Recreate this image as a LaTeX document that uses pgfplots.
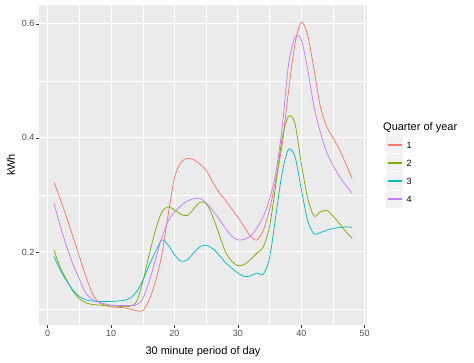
\documentclass[border=0pt]{standalone}
\usepackage{pgfplots}
\pgfplotsset{compat=1.18}
\usepackage{fontspec}
\setmainfont{Liberation Sans}
\definecolor{qa}{HTML}{F8766D}
\definecolor{qb}{HTML}{7CAE00}
\definecolor{qc}{HTML}{00BFC4}
\definecolor{qd}{HTML}{C77CFF}
\definecolor{panelbg}{HTML}{EBEBEB}
\definecolor{keybg}{HTML}{F2F2F2}
\definecolor{grey30}{HTML}{4D4D4D}
\definecolor{grey20}{HTML}{333333}

\pgfplotstableread{
x q1 q2 q3 q4
1 0.322 0.203 0.192 0.285
2 0.292 0.172 0.168 0.245
3 0.260 0.151 0.149 0.209
4 0.226 0.131 0.133 0.178
5 0.192 0.118 0.122 0.152
6 0.158 0.111 0.116 0.128
7 0.128 0.108 0.114 0.117
8 0.112 0.107 0.113 0.112
9 0.107 0.106 0.113 0.109
10 0.104 0.105 0.113 0.107
11 0.103 0.105 0.114 0.106
12 0.102 0.104 0.115 0.106
13 0.100 0.105 0.119 0.106
14 0.097 0.113 0.130 0.107
15 0.097 0.148 0.150 0.118
16 0.116 0.195 0.177 0.148
17 0.148 0.238 0.200 0.186
18 0.195 0.270 0.221 0.225
19 0.265 0.279 0.212 0.254
20 0.330 0.274 0.195 0.270
21 0.357 0.266 0.184 0.281
22 0.364 0.264 0.186 0.289
23 0.362 0.275 0.198 0.293
24 0.354 0.287 0.209 0.294
25 0.343 0.285 0.212 0.286
26 0.323 0.263 0.206 0.273
27 0.305 0.232 0.195 0.258
28 0.291 0.201 0.182 0.242
29 0.276 0.184 0.172 0.228
30 0.261 0.176 0.163 0.221
31 0.244 0.178 0.157 0.222
32 0.227 0.187 0.158 0.228
33 0.221 0.198 0.163 0.242
34 0.238 0.209 0.161 0.262
35 0.275 0.245 0.190 0.293
36 0.328 0.320 0.265 0.340
37 0.390 0.400 0.340 0.420
38 0.484 0.438 0.380 0.530
39 0.565 0.425 0.367 0.576
40 0.603 0.355 0.310 0.572
41 0.580 0.295 0.255 0.520
42 0.520 0.263 0.232 0.455
43 0.455 0.270 0.234 0.410
44 0.420 0.273 0.238 0.375
45 0.400 0.263 0.241 0.352
46 0.380 0.250 0.243 0.333
47 0.355 0.236 0.244 0.317
48 0.329 0.224 0.243 0.303
}\datatable

\begin{document}
\begin{tikzpicture}[x=1pt,y=1pt]
\path[use as bounding box] (-39,-37) rectangle (435,325);
\begin{axis}[
  at={(0,0)}, anchor=south west,
  scale only axis, width=328pt, height=320pt,
  xmin=-1.37, xmax=50.36, ymin=0.0719, ymax=0.633,
  axis line style={draw=none},
  axis background/.style={fill=panelbg},
  xtick={0,10,20,30,40,50},
  ytick={0.2,0.4,0.6},
  minor xtick={5,15,25,35,45},
  minor ytick={0.1,0.3,0.5},
  grid=both,
  major grid style={white, line width=0.9pt},
  minor grid style={white, line width=0.45pt},
  tick align=outside,
  xtick pos=bottom, ytick pos=left,
  major tick length=3pt, minor tick length=0pt,
  tick style={grey20, line width=0.6pt},
  /pgf/number format/assume math mode=true,
  yticklabel style={/pgf/number format/fixed, /pgf/number format/precision=1, /pgf/number format/fixed zerofill, font=\fontsize{9}{10}\selectfont, text=grey30, inner sep=1.5pt},
  xticklabel style={font=\fontsize{9}{10}\selectfont, text=grey30, inner sep=1.5pt, yshift=-1pt},
  xlabel={30 minute period of day},
  ylabel={kWh},
  label style={font=\fontsize{11}{12}\selectfont},
  xlabel style={yshift=-4pt},
  ylabel style={yshift=2pt},
  clip=false,
  every axis plot/.append style={line width=0.75pt, smooth, tension=0.5, no markers},
]
\addplot[qa] table[x=x, y=q1] {\datatable};
\addplot[qb] table[x=x, y=q2] {\datatable};
\addplot[qc] table[x=x, y=q3] {\datatable};
\addplot[qd] table[x=x, y=q4] {\datatable};
\end{axis}
% legend (decoration only)
\node[anchor=west, font=\fontsize{11}{12}\selectfont, inner sep=0pt] at (344,197) {Quarter of year};
\fill[keybg] (347,171.5) rectangle (364,188.5);
\fill[keybg] (347,153.5) rectangle (364,170.5);
\fill[keybg] (347,135.5) rectangle (364,152.5);
\fill[keybg] (347,117.5) rectangle (364,134.5);
\draw[draw=qa, line width=1.6pt] (348.5,180) -- (362.5,180);
\draw[draw=qb, line width=1.6pt] (348.5,162) -- (362.5,162);
\draw[draw=qc, line width=1.6pt] (348.5,144) -- (362.5,144);
\draw[draw=qd, line width=1.6pt] (348.5,126) -- (362.5,126);
\node[anchor=west, font=\fontsize{9}{10}\selectfont, inner sep=0pt] at (367.5,180) {1};
\node[anchor=west, font=\fontsize{9}{10}\selectfont, inner sep=0pt] at (367.5,162) {2};
\node[anchor=west, font=\fontsize{9}{10}\selectfont, inner sep=0pt] at (367.5,144) {3};
\node[anchor=west, font=\fontsize{9}{10}\selectfont, inner sep=0pt] at (367.5,126) {4};
\end{tikzpicture}
\end{document}
